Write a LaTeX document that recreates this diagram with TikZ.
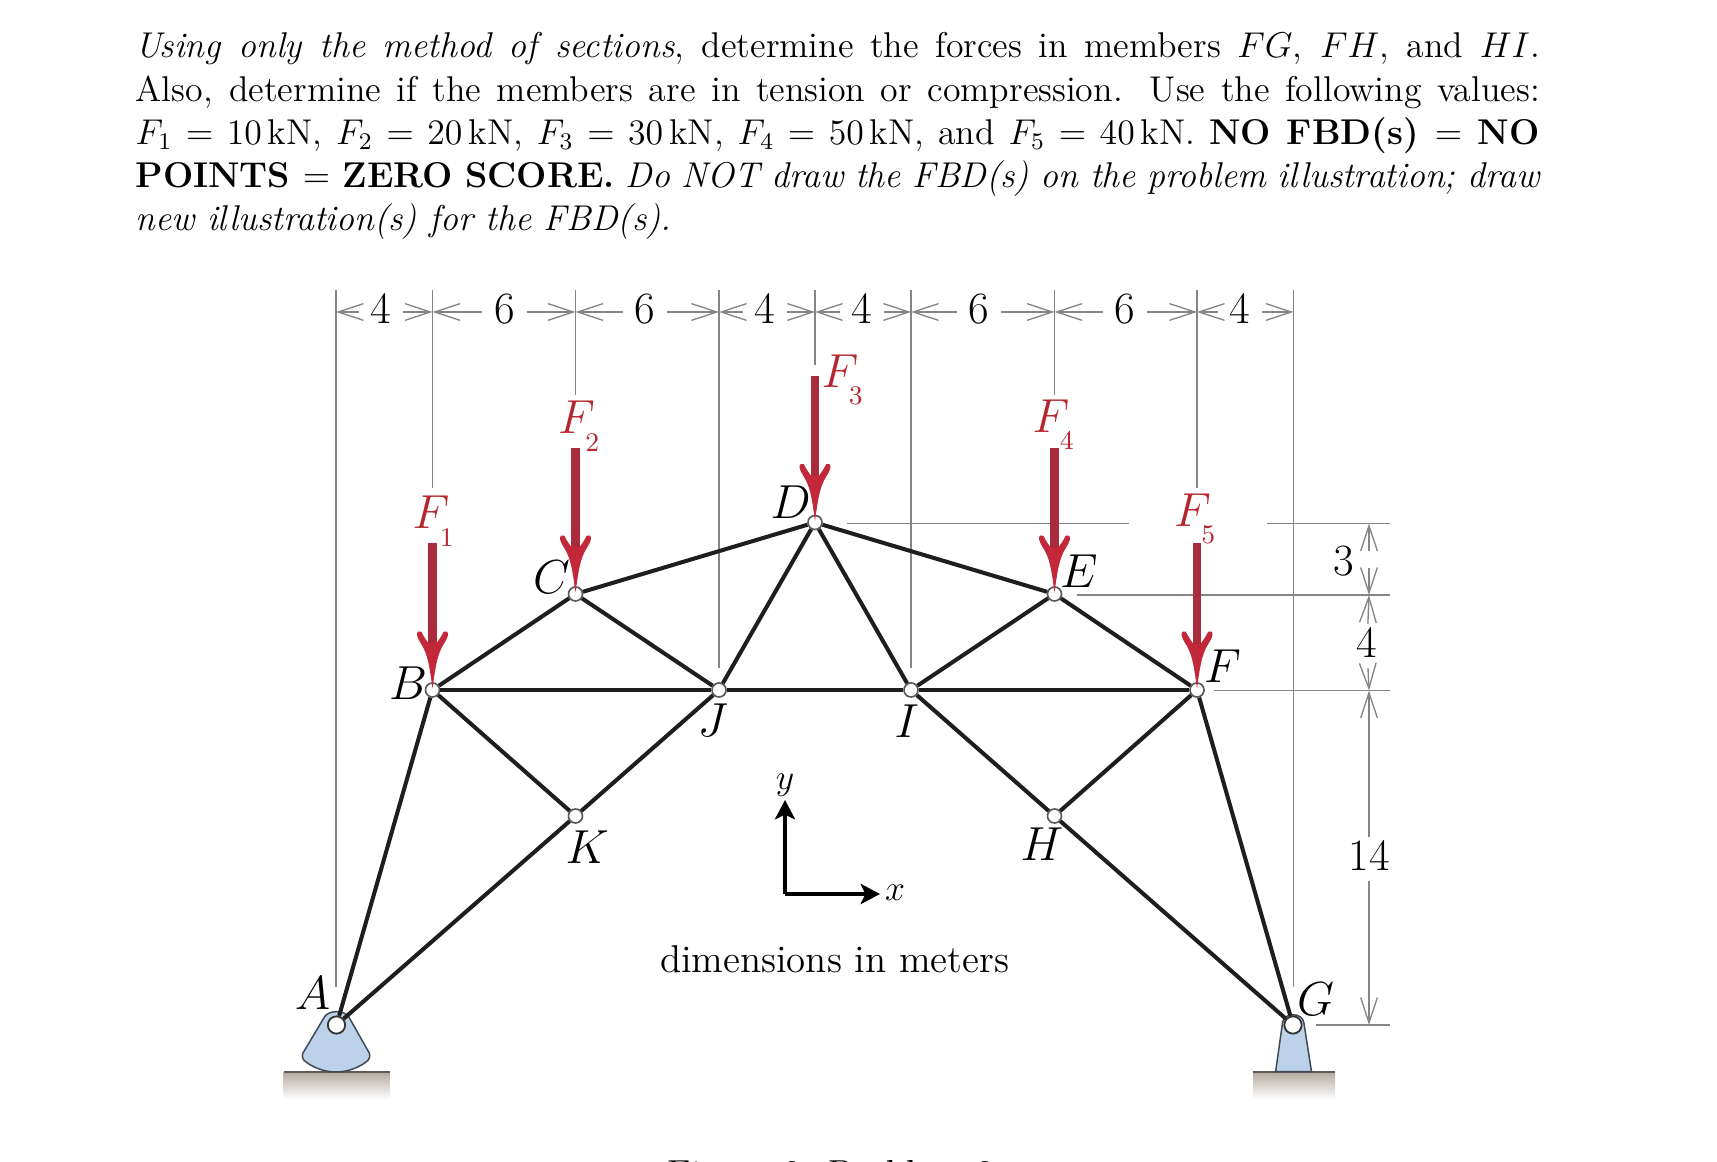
\documentclass[tikz,border=0pt]{standalone}
\usetikzlibrary{arrows.meta}
\DeclareFontShape{OML}{cmm}{m}{it}{<-5.5> cmmi5 <5.5-6.5> cmmi6 <6.5-7.5> cmmi7 <7.5-8.5> cmmi8 <8.5-9.5> cmmi9 <9.5-11> cmmi10 <11-> cmmi12}{}
\definecolor{membercol}{HTML}{1E1E1E}
\definecolor{shaftcol}{HTML}{AA2B3B}
\definecolor{headcol}{HTML}{C2283A}
\definecolor{labelcol}{HTML}{B5262F}
\definecolor{dimcol}{HTML}{858585}
\definecolor{supportcol}{HTML}{BBD2EA}
\definecolor{outlinecol}{HTML}{3F4A55}
\definecolor{groundcol}{HTML}{B3ABA0}
\definecolor{groundtop}{HTML}{5F5A55}
\tikzset{
	member/.style={draw=membercol, line width=1.35pt},
	joint/.style={circle, draw=black!65, fill=white, line width=0.55pt, inner sep=0pt, minimum size=4.7pt},
	pinjoint/.style={circle, draw=black!80, fill=white, line width=0.6pt, inner sep=0pt, minimum size=5.8pt},
	support/.style={draw=outlinecol, fill=supportcol, line width=0.5pt},
	extline/.style={draw=dimcol, line width=0.45pt},
	dimarrow/.style={draw=dimcol, line width=0.45pt, -{Straight Barb[length=8.5pt,width=5.6pt]}},
	dimtext/.style={inner sep=0pt, minimum size=14.5pt, text height=9.7pt, text depth=2pt, font=\fontsize{15}{15}\selectfont},
	force/.style={draw=shaftcol, line width=2.7pt, shorten >=7pt},
	forcelabel/.style={anchor=base west, inner sep=0pt, text=labelcol, font=\fontsize{16}{16}\selectfont},
	jointlabel/.style={anchor=base west, inner sep=0pt, font=\fontsize{16}{16}\selectfont},
}
\def\flab#1{$F$\kern-3.2pt\raisebox{-5.7pt}{\fontsize{9}{9}\selectfont #1}}
\def\loadhead(#1){\filldraw[headcol, line width=0.3pt, shift={(#1.north)}] (0, 3) .. controls (-2, -12) and (-4, -25) .. (-8, -33) .. controls (-10, -38) and (-14, -42) .. (-15, -47) .. controls (-15.5, -50) and (-13, -51.5) .. (-11.5, -50) .. controls (-9, -45) and (-6, -41) .. (-4, -38) -- (4, -38) .. controls (6, -41) and (9, -45) .. (11.5, -50) .. controls (13, -51.5) and (15.5, -50) .. (15, -47) .. controls (14, -42) and (10, -38) .. (8, -33) .. controls (4, -25) and (2, -12) .. (0, 3) -- cycle;}

\begin{document}
\begin{tikzpicture}[x=0.335pt, y=-0.335pt]
	\clip (0, 0) rectangle (1717, 1162);

	% problem text
	\node[anchor=north west, inner sep=0pt, text width=470.4pt, align=justify, font=\fontsize{12}{14.5}\selectfont] (statement) at (135, 32) {\emph{Using only the method of sections}, determine the forces in members $FG$, $FH$, and $HI$. Also, determine if the members are in tension or compression.  Use the following values: $F_1=10\,$kN, $F_2=20\,$kN, $F_3=30\,$kN, $F_4=50\,$kN, and $F_5=40\,$kN.  \textbf{NO FBD(s) $=$ NO POINTS $=$ ZERO SCORE.}  \emph{Do NOT draw the FBD(s) on the problem illustration; draw new illustration(s) for the FBD(s).}};

	% extension lines
	\draw[extline] (336, 290) -- (336, 987);
	\draw[extline] (432.5, 290) -- (432.5, 488);
	\draw[extline] (575.5, 290) -- (575.5, 395);
	\draw[extline] (719, 290) -- (719, 668);
	\draw[extline] (815, 290) -- (815, 365);
	\draw[extline] (911, 290) -- (911, 668);
	\draw[extline] (1054.5, 290) -- (1054.5, 395);
	\draw[extline] (1197, 290) -- (1197, 488);
	\draw[extline] (1293.5, 290) -- (1293.5, 987);

	\draw[extline] (847, 523.5) -- (1129, 523.5);
	\draw[extline] (1267, 523.5) -- (1390, 523.5);
	\draw[extline] (1077, 595) -- (1390, 595);
	\draw[extline] (1214, 690.5) -- (1390, 690.5);
	\draw[extline] (1316, 1025) -- (1390, 1025);

	% dimensions along the top
	\coordinate (dimA) at (336, 312);
	\coordinate (dimB) at (432.5, 312);
	\coordinate (dimC) at (575.5, 312);
	\coordinate (dimJ) at (719, 312);
	\coordinate (dimD) at (815, 312);
	\coordinate (dimI) at (911, 312);
	\coordinate (dimE) at (1054.5, 312);
	\coordinate (dimF) at (1197, 312);
	\coordinate (dimG) at (1293.5, 312);

	\node[dimtext] (spanAB) at (381, 312) {4};
	\node[dimtext] (spanBC) at (504.5, 312) {6};
	\node[dimtext] (spanCJ) at (645, 312) {6};
	\node[dimtext] (spanJD) at (765, 312) {4};
	\node[dimtext] (spanDI) at (862, 312) {4};
	\node[dimtext] (spanIE) at (979, 312) {6};
	\node[dimtext] (spanEF) at (1125, 312) {6};
	\node[dimtext] (spanFG) at (1240, 312) {4};

	\draw[dimarrow] (spanAB) -- (dimA);
	\draw[dimarrow] (spanAB) -- (dimB);
	\draw[dimarrow] (spanBC) -- (dimB);
	\draw[dimarrow] (spanBC) -- (dimC);
	\draw[dimarrow] (spanCJ) -- (dimC);
	\draw[dimarrow] (spanCJ) -- (dimJ);
	\draw[dimarrow] (spanJD) -- (dimJ);
	\draw[dimarrow] (spanJD) -- (dimD);
	\draw[dimarrow] (spanDI) -- (dimD);
	\draw[dimarrow] (spanDI) -- (dimI);
	\draw[dimarrow] (spanIE) -- (dimI);
	\draw[dimarrow] (spanIE) -- (dimE);
	\draw[dimarrow] (spanEF) -- (dimE);
	\draw[dimarrow] (spanEF) -- (dimF);
	\draw[dimarrow] (spanFG) -- (dimF);
	\draw[dimarrow] (spanFG) -- (dimG);

	% dimensions down the right side
	\coordinate (riseD) at (1369, 523.5);
	\coordinate (riseE) at (1369, 595);
	\coordinate (riseF) at (1369, 690.5);
	\coordinate (riseG) at (1369, 1025);
	\coordinate (riseDtail) at (1369, 551);
	\coordinate (riseEtail) at (1369, 568);

	\node[dimtext] (riseDE) at (1344, 564) {3};
	\node[dimtext] (riseEF) at (1367, 646) {4};
	\node[dimtext] (riseFG) at (1369, 859) {14};

	\draw[dimarrow] (riseDtail) -- (riseD);
	\draw[dimarrow] (riseEtail) -- (riseE);
	\draw[dimarrow] (riseEF) -- (riseE);
	\draw[dimarrow] (riseEF) -- (riseF);
	\draw[dimarrow] (riseFG) -- (riseF);
	\draw[dimarrow] (riseFG) -- (riseG);

	% ground and supports
	\shade[top color=groundcol, bottom color=white] (283.5, 1072) rectangle (389.5, 1099);
	\draw[draw=groundtop, line width=0.5pt] (283.5, 1072) -- (389.5, 1072);
	\shade[top color=groundcol, bottom color=white] (1253, 1072) rectangle (1335, 1099);
	\draw[draw=groundtop, line width=0.5pt] (1253, 1072) -- (1335, 1072);

	\draw[support] (324.6, 1016.7) .. controls (329, 1010) and (344, 1010) .. (348.7, 1016.7) -- (369.4, 1053.3) .. controls (370.5, 1057) and (369, 1060) .. (366, 1062) .. controls (358, 1068) and (347, 1072) .. (336, 1072) .. controls (325, 1072) and (314, 1068) .. (306, 1062) .. controls (303, 1060) and (301.5, 1057) .. (302.8, 1053.3) -- cycle;
	\draw[support] (1282.5, 1023) .. controls (1283, 1012) and (1303, 1012) .. (1303.9, 1023) -- (1311.5, 1071.7) -- (1275.6, 1071.7) -- cycle;

	% joints
	\node[pinjoint] (A) at (336.5, 1025) {};
	\node[joint] (B) at (432.5, 690) {};
	\node[joint] (C) at (575.5, 594) {};
	\node[joint] (D) at (815, 522.5) {};
	\node[joint] (E) at (1054.5, 594) {};
	\node[joint] (F) at (1197, 690) {};
	\node[pinjoint] (G) at (1293, 1025) {};
	\node[joint] (H) at (1054.5, 816) {};
	\node[joint] (I) at (911, 690) {};
	\node[joint] (J) at (719, 690) {};
	\node[joint] (K) at (575.5, 816) {};

	% members
	\draw[member] (A) -- (B);
	\draw[member] (A) -- (K);
	\draw[member] (K) -- (J);
	\draw[member] (B) -- (K);
	\draw[member] (B) -- (C);
	\draw[member] (C) -- (J);
	\draw[member] (C) -- (D);
	\draw[member] (D) -- (J);
	\draw[member] (D) -- (I);
	\draw[member] (D) -- (E);
	\draw[member] (E) -- (I);
	\draw[member] (E) -- (F);
	\draw[member] (I) -- (H);
	\draw[member] (H) -- (F);
	\draw[member] (H) -- (G);
	\draw[member] (F) -- (G);
	\draw[member, line width=1.6pt] (B) -- (J);
	\draw[member, line width=1.6pt] (J) -- (I);
	\draw[member, line width=1.6pt] (I) -- (F);

	% loads
	\coordinate (loadB) at (432.5, 543);
	\coordinate (loadC) at (575.5, 448);
	\coordinate (loadD) at (815, 376);
	\coordinate (loadE) at (1054.5, 448);
	\coordinate (loadF) at (1197, 543);

	\draw[force] (loadB) -- (B);
	\draw[force] (loadC) -- (C);
	\draw[force] (loadD) -- (D);
	\draw[force] (loadE) -- (E);
	\draw[force] (loadF) -- (F);

	\loadhead(B)
	\loadhead(C)
	\loadhead(D)
	\loadhead(E)
	\loadhead(F)

	\node[forcelabel] (labF1) at (412, 529) {\flab{1}};
	\node[forcelabel] (labF2) at (557.5, 434) {\flab{2}};
	\node[forcelabel] (labF3) at (821, 387.7) {\flab{3}};
	\node[forcelabel] (labF4) at (1032, 432.7) {\flab{4}};
	\node[forcelabel] (labF5) at (1173.5, 526.7) {\flab{5}};

	% joint letters
	\node[jointlabel] (labA) at (294.5, 1010) {$A$};
	\node[jointlabel] (labB) at (388.5, 700) {$B$};
	\node[jointlabel] (labC) at (532.5, 594) {$C$};
	\node[jointlabel] (labD) at (770, 518.3) {$D$};
	\node[jointlabel] (labE) at (1059.5, 588) {$E$};
	\node[jointlabel] (labF) at (1203.5, 682.7) {$F$};
	\node[jointlabel] (labG) at (1296.5, 1015) {$G$};
	\node[jointlabel] (labH) at (1020, 860.7) {$H$};
	\node[jointlabel] (labI) at (894, 737.3) {$I$};
	\node[jointlabel] (labJ) at (697, 737) {$J$};
	\node[jointlabel] (labK) at (565, 863.3) {$K$};

	% axes
	\coordinate (origin) at (785, 894);
	\coordinate (xtip) at (880, 894);
	\coordinate (ytip) at (785, 800);
	\draw[line width=1.1pt, -{Stealth[length=6.5pt,width=6.8pt,inset=1.6pt]}] (origin) -- (xtip);
	\draw[line width=1.1pt, -{Stealth[length=6.5pt,width=6.8pt,inset=1.6pt]}] (origin) -- (ytip);
	\node[inner sep=0pt, font=\fontsize{12}{12}\selectfont] (xlab) at (895, 893) {$x$};
	\node[inner sep=0pt, font=\fontsize{12}{12}\selectfont] (ylab) at (785, 785) {$y$};

	\node[anchor=base west, inner sep=0pt, font=\fontsize{13}{13}\selectfont] (units) at (659.5, 972.7) {dimensions in meters};
	\node[anchor=base west, inner sep=0pt, font=\fontsize{12.6}{14}\selectfont] (caption) at (666.7, 1186) {Figure 2: Problem 2};
\end{tikzpicture}
\end{document}
